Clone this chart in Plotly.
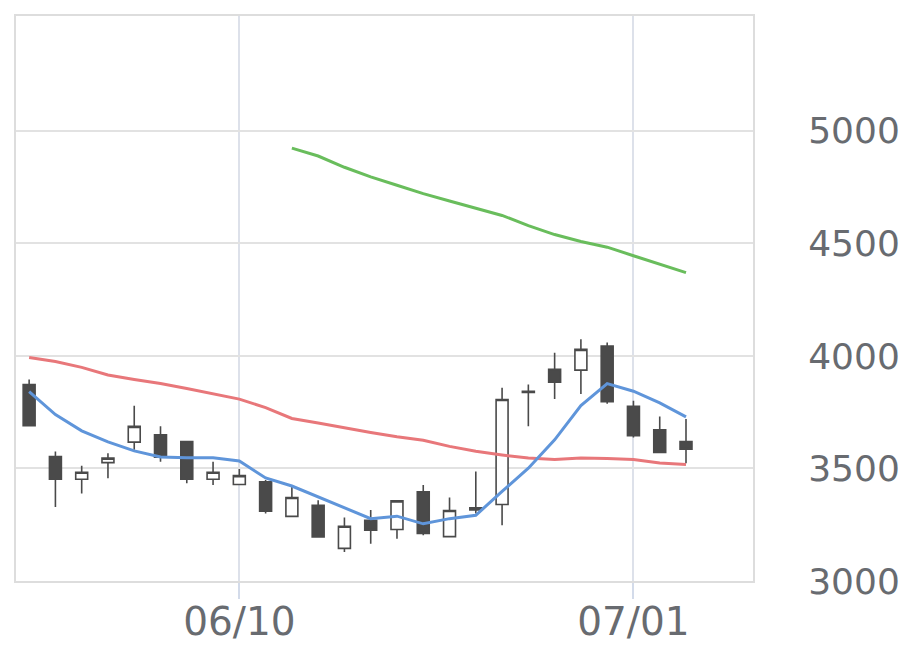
import plotly.graph_objects as go

dates = ["05/31", "06/01", "06/02", "06/03", "06/06", "06/07", "06/08", "06/09",
         "06/10", "06/13", "06/14", "06/15", "06/16", "06/17", "06/20", "06/21",
         "06/22", "06/23", "06/24", "06/27", "06/28", "06/29", "06/30", "07/01",
         "07/04", "07/05"]

opens = [3873, 3553, 3452, 3526, 3617, 3650, 3620, 3452, 3429, 3441, 3287, 3336,
         3145, 3270, 3229, 3396, 3197, 3325, 3340, 3843, 3940, 3937, 4044, 3776,
         3672, 3620]
highs = [3895, 3575, 3512, 3568, 3779, 3687, 3620, 3530, 3498, 3449, 3419, 3359,
         3282, 3315, 3356, 3426, 3371, 3486, 3858, 3873, 4014, 4074, 4059, 3801,
         3731, 3720]
lows = [3687, 3329, 3389, 3456, 3583, 3530, 3434, 3426, 3429, 3300, 3285, 3195,
        3129, 3166, 3188, 3203, 3197, 3300, 3248, 3687, 3809, 3831, 3787, 3638,
        3570, 3523]
closes = [3690, 3452, 3483, 3546, 3687, 3550, 3452, 3483, 3468, 3310, 3371, 3196,
          3243, 3226, 3356, 3211, 3313, 3316, 3806, 3838, 3883, 4029, 3796, 3645,
          3571, 3586]

ma_short = [3841, 3739, 3667, 3618, 3578, 3551, 3547, 3547, 3533, 3458, 3422, 3373,
            3326, 3277, 3288, 3254, 3277, 3292, 3398, 3501, 3627, 3779, 3877, 3843,
            3791, 3729]
ma_mid = [3993, 3975, 3949, 3915, 3895, 3877, 3855, 3833, 3808, 3770, 3722, 3702,
          3680, 3660, 3641, 3625, 3598, 3576, 3560, 3546, 3540, 3546, 3544, 3540,
          3524, 3518]
ma_long = [None, None, None, None, None, None, None, None, None, None,
           4923, 4888, 4838, 4795, 4758, 4721, 4688, 4657, 4624, 4579, 4539, 4508,
           4483, 4445, 4408, 4370]

x_ticks = ["06/10", "07/01"]
y_ticks = [3000, 3500, 4000, 4500, 5000]

dark = "#4a4a4a"
fig = go.Figure()
fig.add_trace(go.Candlestick(
    x=dates, open=opens, high=highs, low=lows, close=closes,
    increasing=dict(line=dict(color=dark, width=1.6), fillcolor="#ffffff"),
    decreasing=dict(line=dict(color=dark, width=1.6), fillcolor=dark),
    whiskerwidth=0, showlegend=False, hoverinfo="skip"))
fig.add_trace(go.Scatter(x=dates, y=ma_mid, mode="lines",
                         line=dict(color="#e8777a", width=3), showlegend=False))
fig.add_trace(go.Scatter(x=dates, y=ma_short, mode="lines",
                         line=dict(color="#5f95da", width=3), showlegend=False))
fig.add_trace(go.Scatter(x=dates, y=ma_long, mode="lines",
                         line=dict(color="#69bd5c", width=3), showlegend=False))

fig.update_layout(
    width=912, height=661,
    margin=dict(l=8, r=167, t=8, b=88),
    paper_bgcolor="#ffffff", plot_bgcolor="#ffffff",
    boxgap=0.35,
    font=dict(family="DejaVu Sans", color="#686b70"),
    xaxis=dict(
        type="category", categoryorder="array", categoryarray=dates,
        range=[-0.5, 27.55], tickmode="array", tickvals=x_ticks, ticktext=x_ticks,
        showgrid=True, gridcolor="#dde1ea", gridwidth=1.5,
        ticks="outside", ticklen=16, tickcolor="#d3dbea", tickwidth=1.5,
        ticklabelstandoff=-11,
        tickfont=dict(size=39, color="#686b70"),
        showline=True, linecolor="#dddddd", linewidth=2, mirror=True,
        rangeslider=dict(visible=False), zeroline=False, automargin=False,
    ),
    yaxis=dict(
        side="right", range=[3000, 5510], tickmode="array", tickvals=y_ticks,
        showgrid=True, gridcolor="#e2e2e2", gridwidth=1.5,
        ticks="", ticklabelstandoff=46,
        tickfont=dict(size=36, color="#686b70"),
        showline=True, linecolor="#dddddd", linewidth=2, mirror=True,
        zeroline=False, automargin=False,
    ),
)

fig.write_html("out.html")
